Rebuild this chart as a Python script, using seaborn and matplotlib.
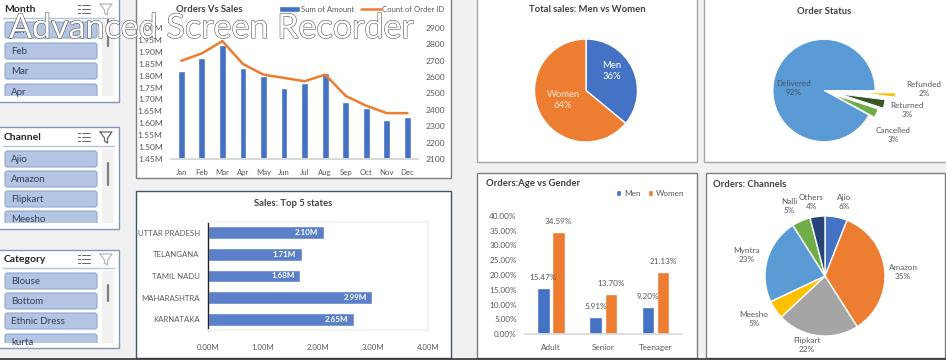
import matplotlib
matplotlib.use("Agg")
import matplotlib.pyplot as plt
import matplotlib.patheffects as pe
from matplotlib.patches import Rectangle, FancyBboxPatch
from matplotlib.lines import Line2D
import seaborn as sns

W, H = 946, 360

months = ["Jan", "Feb", "Mar", "Apr", "May", "Jun", "Jul", "Aug", "Sep", "Oct", "Nov", "Dec"]
amount = [1.82, 1.875, 1.93, 1.83, 1.80, 1.75, 1.77, 1.81, 1.69, 1.665, 1.615, 1.625]
order_count = [2700, 2745, 2820, 2680, 2615, 2595, 2575, 2615, 2485, 2425, 2380, 2380]

states = ["UTTAR PRADESH", "TELANGANA", "TAMIL NADU", "MAHARASHTRA", "KARNATAKA"]
state_sales = [2.10, 1.71, 1.68, 2.99, 2.65]

gender_labels = ["Men", "Women"]
gender_share = [36, 64]

status_labels = ["Refunded", "Returned", "Cancelled", "Delivered"]
status_share = [2, 3, 3, 92]

age_groups = ["Adult", "Senior", "Teenager"]
men_orders = [15.47, 5.91, 9.20]
women_orders = [34.59, 13.70, 21.13]

channels = ["Ajio", "Amazon", "Flipkart", "Meesho", "Myntra", "Nalli", "Others"]
channel_share = [6, 35, 22, 5, 23, 5, 4]

BLUE = "#4472c4"
ORANGE = "#ed7d31"
TEXT = "#595959"
TITLE_SIZE = 6.8
LABEL_SIZE = 5.9

sns.set_theme(style="white")
plt.rcParams["font.family"] = ["Lato", "DejaVu Sans"]

fig = plt.figure(figsize=(W / 100, H / 100), dpi=100, facecolor="#f1f1f1")


def ax_at(left, top, right, bottom):
    return fig.add_axes([left / W, 1 - bottom / H, (right - left) / W, (bottom - top) / H])


def txt(x, y, s, size=LABEL_SIZE, color=TEXT, ha="center", weight="normal", **kw):
    return fig.text(x / W, 1 - y / H, s, fontsize=size, color=color, ha=ha, va="center",
                    fontweight=weight, zorder=6, **kw)


def pie_ax(cx, cy, r, pad=1.0):
    side = r * pad
    ax = ax_at(cx - side, cy - side, cx + side, cy + side)
    ax.patch.set_alpha(0)
    return ax


# background with the dashboard panels
bg = ax_at(0, 0, W, H)
bg.set_xlim(0, W)
bg.set_ylim(H, 0)
bg.axis("off")

panels = [
    (136, -5, 451, 178, "#7f7f7f"),
    (136, 191, 451, 358, "#44546a"),
    (477, -5, 697, 162, "#a6a6a6"),
    (704, -5, 950, 162, "#a6a6a6"),
    (477, 173, 697, 358, "#7f7f7f"),
    (706, 173, 945, 358, "#7f7f7f"),
]
for l, t, r, b, edge in panels:
    bg.add_patch(Rectangle((l, t), r - l, b - t, fc="white", ec=edge, lw=1.0))
bg.plot([0, W], [358.8, 358.8], color="#333333", lw=1.2)

# slicers
slicers = [
    ("Month", -8, 102, 9, 18, ["Jan", "Feb", "Mar", "Apr"], [21, 42, 62, 83], 96, (20, 46), "#b8b8b8"),
    ("Channel", 127, 229, 137, 146, ["Ajio", "Amazon", "Flipkart", "Meesho"], [150, 170, 190, 210], 223, (163, 185), "#666666"),
    ("Category", 250, 348, 259, 268, ["Blouse", "Bottom", "Ethnic Dress", "kurta"], [272, 292, 312, 333], 343, (285, 301), "#b8b8b8"),
]
for name, top, bottom, head_y, line_y, items, tops, clip_y, scroll, funnel in slicers:
    bg.add_patch(Rectangle((-5, top), 124, bottom - top, fc="white", ec="#8497b8", lw=1.0))
    txt(4, head_y, name, size=7.5, color="#262626", ha="left", weight="bold")
    bg.plot([3, 114], [line_y, line_y], color="#b4c2dc", lw=1.0)
    bg.add_patch(Rectangle((102, line_y + 3), 12, clip_y - line_y - 3, fc="#f1f1f1", ec="none"))
    bg.plot([108, 108], scroll, color="#7f7f7f", lw=1.6)
    clip = Rectangle((0, line_y), 120, clip_y - line_y, transform=bg.transData)
    for item, y in zip(items, tops):
        btn = FancyBboxPatch((5, y + 1), 92, 16, boxstyle="round,pad=0,rounding_size=2.5",
                             fc="#b3c5e3", ec="#8ea6cc", lw=0.8)
        bg.add_patch(btn)
        btn.set_clip_path(clip)
        if y + 9 < clip_y:
            txt(11, y + 9.5, item, size=7, color="#33405a", ha="left")
    # multi select and clear filter icons
    for k in range(3):
        bg.plot([78, 80], [line_y - 13 + k * 4] * 2, color="#666666", lw=0.8)
        bg.plot([82, 90], [line_y - 13 + k * 4] * 2, color="#666666", lw=0.7)
    bg.plot([100, 112, 107.5, 107.5, 104.5, 104.5, 100],
            [line_y - 14, line_y - 14, line_y - 8, line_y - 3, line_y - 5, line_y - 8, line_y - 14],
            color=funnel, lw=0.9)

# Orders Vs Sales
ax1 = ax_at(171, 28, 417.7, 159)
ax1.patch.set_alpha(0)
sns.barplot(x=months, y=amount, color=BLUE, saturation=1, width=0.33, ax=ax1)
ax1.set_ylim(1.45, 2.0)
ax1.set_xlim(-0.5, 11.5)
ax1.set_yticks([1.45 + 0.05 * i for i in range(12)])
ax1.set_yticklabels([f"{1.45 + 0.05 * i:.2f}M" for i in range(12)])
ax2 = ax1.twinx()
sns.lineplot(x=months, y=order_count, color=ORANGE, lw=1.8, ax=ax2, sort=False)
ax2.set_ylim(2100, 2900)
ax2.set_yticks(range(2100, 3000, 100))
for a in (ax1, ax2):
    a.tick_params(length=0, labelsize=6.1, labelcolor=TEXT, pad=6)
    sns.despine(ax=a, left=True, right=True, top=True, bottom=False)
    a.spines["bottom"].set_color("#d9d9d9")
ax1.tick_params(axis="x", labelsize=5.6, pad=7)
txt(209, 9, "Orders Vs Sales", size=TITLE_SIZE, color="#404040", weight="bold")
fig.legend(handles=[Rectangle((0, 0), 1, 1, fc=BLUE), Line2D([], [], color=ORANGE, lw=1.8)],
           labels=["Sum of Amount", "Count of Order ID"], loc="center",
           bbox_to_anchor=(362 / W, 1 - 9 / H), ncol=2, frameon=False, fontsize=5.6,
           labelcolor=TEXT, handlelength=2.6, handleheight=0.8, columnspacing=0.8, handletextpad=0.2)

# Sales: Top 5 states
ax3 = ax_at(208, 222, 428, 330)
ax3.patch.set_alpha(0)
sns.barplot(x=state_sales, y=states, color="#5b80c9", saturation=1, width=0.6, ax=ax3)
ax3.set_xlim(0, 4)
ax3.set_xticks(range(5))
ax3.set_xticklabels([f"{v}.00M" for v in range(5)])
ax3.tick_params(length=0, labelsize=5.6, labelcolor=TEXT)
ax3.tick_params(axis="x", pad=10)
ax3.tick_params(axis="y", pad=6)
ax3.bar_label(ax3.containers[0], labels=[f"{v:.2f}M" for v in state_sales], padding=-21,
              color="white", fontsize=5.8, fontweight="bold")
ax3.grid(axis="x", visible=False)
for side in ("top", "right", "bottom"):
    ax3.spines[side].set_color("#f2f2f2")
ax3.spines["left"].set_color("#222222")
ax3.spines["left"].set_linewidth(1.0)
txt(293, 204, "Sales: Top 5 states", size=TITLE_SIZE, color="#404040", weight="bold")

# Total sales: Men vs Women
ax4 = pie_ax(586, 90.5, 51.5)
ax4.pie(gender_share, colors=[BLUE, ORANGE], startangle=90, counterclock=False,
        wedgeprops=dict(ec="white", lw=1.0))
ax4.set_xlim(-1, 1)
ax4.set_ylim(-1, 1)
txt(587, 9.5, "Total sales: Men vs Women", size=TITLE_SIZE, color="#404040", weight="bold")
txt(612, 71, f"{gender_labels[0]}\n{gender_share[0]}%", size=6.8, color="white", linespacing=1.35)
txt(563, 100, f"{gender_labels[1]}\n{gender_share[1]}%", size=6.8, color="#fde6d6", linespacing=1.35)

# Order Status
ax5 = pie_ax(824, 90.5, 51, pad=1.6)
wedges, _ = ax5.pie(status_share, colors=["#ffc000", "#375623", "#70ad47", "#5b9bd5"],
                    startangle=0, counterclock=False, explode=[0.75, 0.33, 0.2, 0],
                    wedgeprops=dict(ec="white", lw=0.6))
for wedge, radius in zip(wedges[:3], [0.65, 0.88, 0.92]):
    wedge.set_radius(radius)
ax5.set_xlim(-1.6, 1.6)
ax5.set_ylim(-1.6, 1.6)
txt(824, 12, "Order Status", size=TITLE_SIZE, color="#404040", weight="bold")
txt(794, 88, f"{status_labels[3]}\n{status_share[3]}%", color="#44546a", linespacing=1.4)
txt(924, 89, f"{status_labels[0]}\n{status_share[0]}%", linespacing=1.4)
txt(907, 110, f"{status_labels[1]}\n{status_share[1]}%", linespacing=1.4)
txt(893, 135, f"{status_labels[2]}\n{status_share[2]}%", linespacing=1.4)

# Orders:Age vs Gender
ax6 = ax_at(525, 215.7, 681.5, 334.3)
ax6.patch.set_alpha(0)
sns.barplot(x=age_groups * 2, y=men_orders + women_orders,
            hue=["Men"] * 3 + ["Women"] * 3, palette=[BLUE, ORANGE], saturation=1,
            width=0.58, gap=0.18, legend=False, ax=ax6)
ax6.set_ylim(0, 40)
ax6.set_yticks(range(0, 45, 5))
ax6.set_yticklabels([f"{v}.00%" for v in range(0, 45, 5)])
ax6.tick_params(length=0, labelsize=5.9, labelcolor=TEXT)
ax6.tick_params(axis="y", pad=6)
ax6.tick_params(axis="x", pad=7)
for cont, values in zip(ax6.containers, (men_orders, women_orders)):
    ax6.bar_label(cont, labels=[f"{v:.2f}%" for v in values], padding=5, fontsize=5.9, color=TEXT)
sns.despine(ax=ax6, left=True)
ax6.spines["bottom"].set_color("#d9d9d9")
txt(486, 183, "Orders:Age vs Gender", size=TITLE_SIZE, color="#404040", ha="left", weight="bold")
fig.legend(handles=[Rectangle((0, 0), 1, 1, fc=BLUE), Rectangle((0, 0), 1, 1, fc=ORANGE)],
           labels=["Men", "Women"], loc="center", bbox_to_anchor=(650 / W, 1 - 193 / H), ncol=2,
           frameon=False, fontsize=5.9, labelcolor=TEXT, handlelength=0.7, handleheight=0.7,
           columnspacing=0.9, handletextpad=0.3)

# Orders: Channels
ax7 = pie_ax(825, 276, 60)
ax7.pie(channel_share, colors=[BLUE, ORANGE, "#a5a5a5", "#ffc000", "#5b9bd5", "#70ad47", "#264478"],
        startangle=90, counterclock=False, wedgeprops=dict(ec="white", lw=1.0))
ax7.set_xlim(-1, 1)
ax7.set_ylim(-1, 1)
txt(713, 185, "Orders: Channels", size=TITLE_SIZE, color="#404040", ha="left", weight="bold")
channel_pos = [(844, 202), (903, 272), (807, 345), (754, 319), (747, 255), (789, 206), (811, 202)]
for name, share, (x, y) in zip(channels, channel_share, channel_pos):
    txt(x, y, f"{name}\n{share}%", linespacing=1.4)

# recorder watermark
mark = fig.text(211 / W, 1 - 28 / H, "Advanced Screen Recorder", fontsize=24.5, color="white",
                ha="center", va="center", zorder=20)
mark.set_path_effects([pe.withStroke(linewidth=0.8, foreground="#555555")])

fig.savefig("out.png", dpi=100, facecolor=fig.get_facecolor())
